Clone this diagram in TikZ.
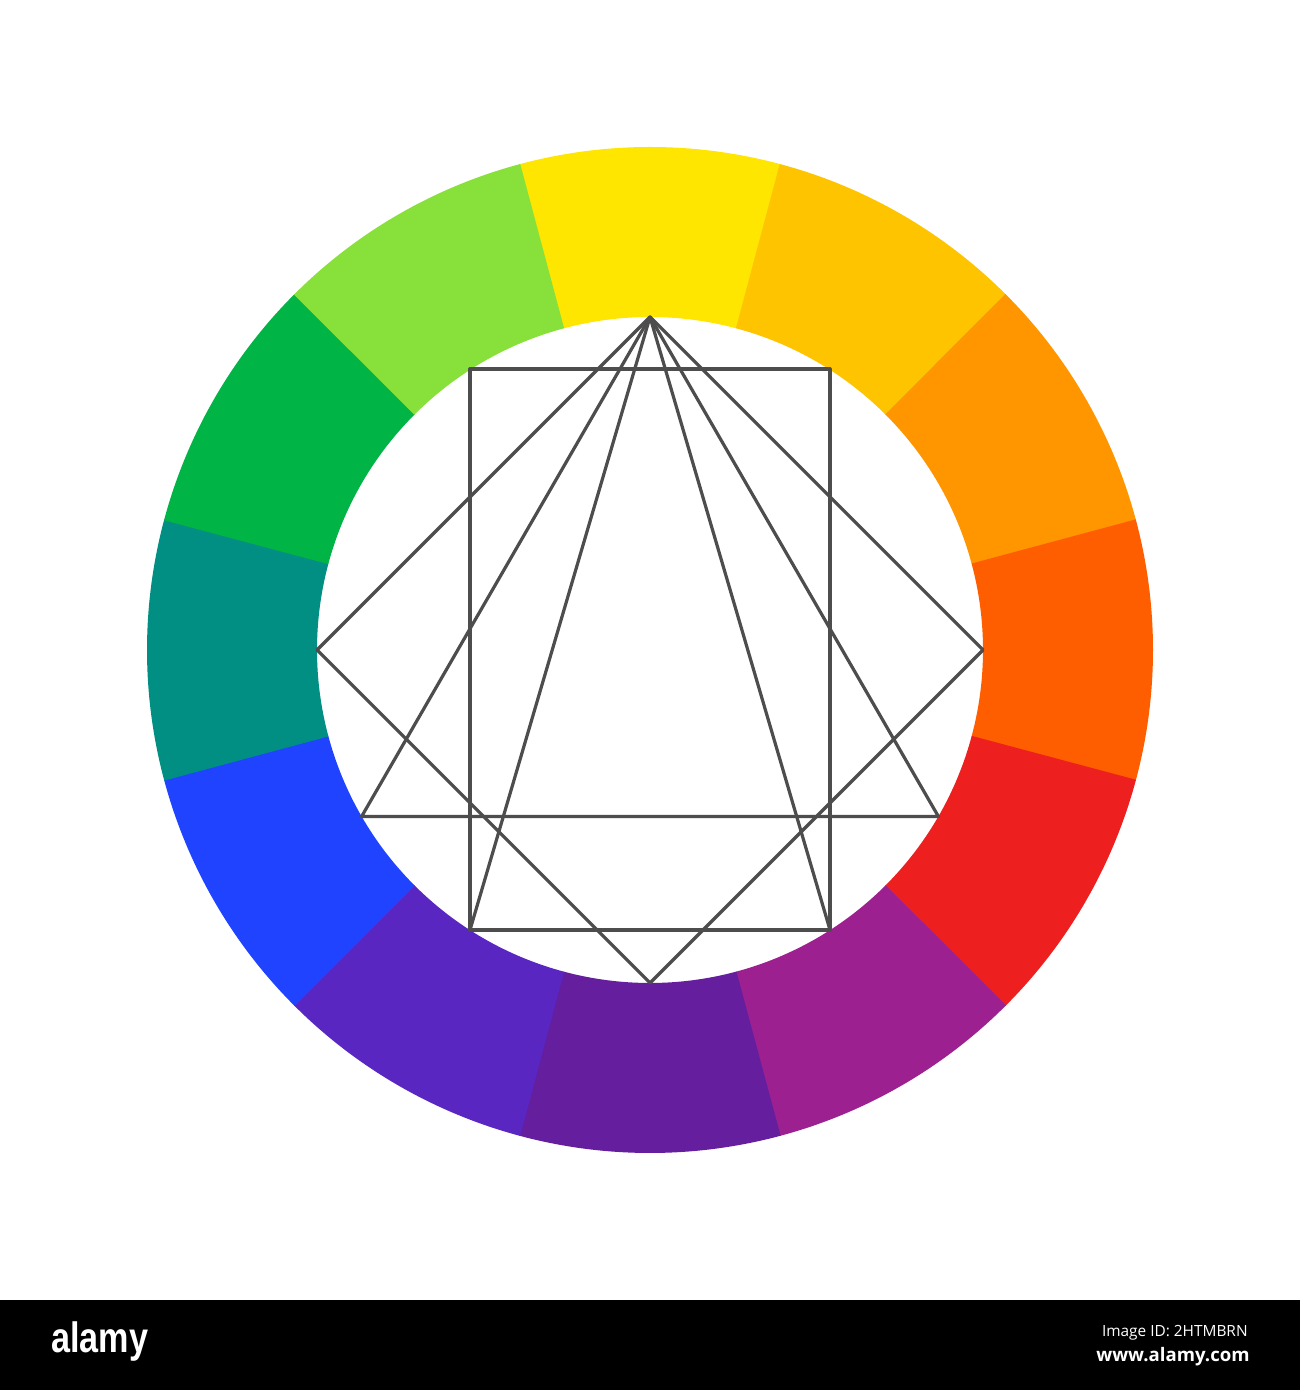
\documentclass[tikz,border=0pt]{standalone}
\usepackage{fontspec}
\setmainfont{Open Sans}
\newfontfamily\logofont{Liberation Sans}
\definecolor{cY}{HTML}{FFE600}
\definecolor{cYO}{HTML}{FFC400}
\definecolor{cO}{HTML}{FF9600}
\definecolor{cRO}{HTML}{FF5E00}
\definecolor{cR}{HTML}{EE1F1F}
\definecolor{cRV}{HTML}{9D2091}
\definecolor{cV}{HTML}{641E9E}
\definecolor{cBV}{HTML}{5A26C2}
\definecolor{cB}{HTML}{1F43FF}
\definecolor{cT}{HTML}{008F82}
\definecolor{cG}{HTML}{00B446}
\definecolor{cYG}{HTML}{88E03A}
\definecolor{linegray}{HTML}{4D4D4D}
\begin{document}
\begin{tikzpicture}[x=0.5pt,y=0.5pt,line join=round,
  geom/.style={draw=linegray,line width=1.6pt},
  barlabel/.style={inner sep=0pt,text=white}]
\useasboundingbox (0,0) rectangle (1300,1390);
\fill[white] (0,0) rectangle (1300,1390);
\coordinate (C) at (650,740);
% colour wheel
\foreach \a/\col in {90/cY,60/cYO,30/cO,0/cRO,-30/cR,-60/cRV,-90/cV,-120/cBV,-150/cB,-180/cT,-210/cG,-240/cYG}{
  \pgfmathsetmacro{\sa}{\a-15.05}
  \pgfmathsetmacro{\ea}{\a+15.05}
  \fill[\col] ([shift={(C)}]\sa:503) arc[start angle=\sa,end angle=\ea,radius=503]
    -- ([shift={(C)}]\ea:333) arc[start angle=\ea,end angle=\sa,radius=333] -- cycle;
}
% inner geometry
\coordinate (A) at ([shift={(C)}]90:333);
\coordinate (D0) at ([shift={(C)}]0:333);
\coordinate (D180) at ([shift={(C)}]180:333);
\coordinate (D270) at ([shift={(C)}]270:333);
\coordinate (T210) at ([shift={(C)}]210:333);
\coordinate (T330) at ([shift={(C)}]330:333);
\coordinate (RBL) at (470,460);
\coordinate (RBR) at (830,460);
\coordinate (RTL) at (470,1021);
\coordinate (RTR) at (830,1021);
\draw[geom] (RBL) -- (RBR) -- (RTR) -- (RTL) -- cycle;
\draw[geom] (A) -- (D0) -- (D270) -- (D180) -- cycle;
\draw[geom] (A) -- (T330) -- (T210) -- cycle;
\draw[geom] (RBL) -- (A) -- (RBR);
% bottom bar
\fill[black] (0,0) rectangle (1300,90);
\node[barlabel,anchor=base west] (logo) at (51,37)
  {\scalebox{0.95}[1.18]{\fontsize{18pt}{19pt}\logofont\bfseries alamy}};
\node[barlabel,anchor=base east] (imgid) at (1248,53)
  {\fontsize{7.7pt}{8pt}\selectfont Image ID: 2HTMBRN};
\node[barlabel,anchor=base east] (www) at (1250,28)
  {\fontsize{9.3pt}{10pt}\selectfont\bfseries www.alamy.com};
\end{tikzpicture}
\end{document}
